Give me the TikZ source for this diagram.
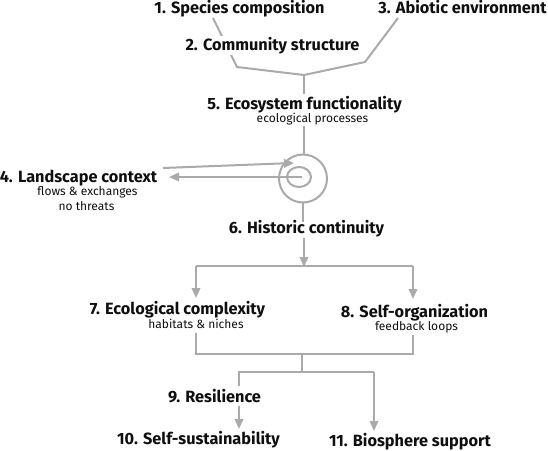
\documentclass[tikz,border=0pt]{standalone}
\usepackage{fontspec}
\setmainfont{Fira Sans}
\usetikzlibrary{arrows.meta,shapes.geometric}
\definecolor{lg}{RGB}{170,170,170}
\definecolor{tx}{RGB}{15,15,15}
\begin{document}
\begin{tikzpicture}[x=1pt,y=-1pt,
  big/.style={anchor=base,inner sep=0pt,text=tx,font=\fontsize{16.3}{19}\selectfont\bfseries},
  small/.style={anchor=base,inner sep=0pt,text=tx,font=\fontsize{12}{14}\selectfont},
  conn/.style={draw=lg,line width=2pt,line join=miter},
  arr/.style={conn,-{Triangle[length=10pt,width=8.5pt]},shorten >=-1pt}]
\useasboundingbox (0,0) rectangle (548,450);
% coordinates
\coordinate (a1) at (213,18);
\coordinate (b1) at (237,67);
\coordinate (a3) at (398,18);
\coordinate (b3) at (365,62);
\coordinate (m1) at (304,75);
\coordinate (m2) at (304,94);
\coordinate (m3) at (304,126);
\coordinate (m4) at (304,154.5);
\coordinate (inS) at (163,168);
\coordinate (inE) at (293,163);
\coordinate (outS) at (302,177);
\coordinate (outE) at (170,177);
\coordinate (m5) at (303,203);
\coordinate (m6) at (303,222);
\coordinate (m7) at (304,238);
\coordinate (m8) at (304,266);
\coordinate (bl) at (196,266);
\coordinate (br) at (413,266);
\coordinate (bl2) at (196,297);
\coordinate (br2) at (413,298);
\coordinate (c1) at (196,333);
\coordinate (c2) at (196,354);
\coordinate (c3) at (413,335);
\coordinate (c4) at (413,354);
\coordinate (c5) at (302,354);
\coordinate (c6) at (302,372);
\coordinate (d1) at (239,372);
\coordinate (d2) at (374,372);
\coordinate (d3) at (239,386);
\coordinate (d4) at (239,406);
\coordinate (d5) at (239,428);
\coordinate (d6) at (374,430);
% circle
\node[draw=lg,line width=2pt,circle,minimum size=48pt,inner sep=0pt] (ring) at (303,178.5) {};
\node[draw=lg,line width=2pt,ellipse,minimum width=24pt,minimum height=20pt,inner sep=0pt] (core) at (299,177) {};
% connectors
\draw[conn] (a1) -- (b1) -- (m1) -- (b3) -- (a3);
\draw[conn] (m1) -- (m2);
\draw[conn] (m3) -- (m4);
\draw[arr] (inS) -- (inE);
\draw[arr] (outS) -- (outE);
\draw[conn] (m5) -- (m6);
\draw[arr] (m7) -- (m8);
\draw[conn] (bl) -- (br);
\draw[arr] (bl) -- (bl2);
\draw[arr] (br) -- (br2);
\draw[conn] (c1) -- (c2) -- (c4) -- (c3);
\draw[conn] (c5) -- (c6);
\draw[conn] (d3) -- (d1) -- (d2);
\draw[arr] (d2) -- (d6);
\draw[arr] (d4) -- (d5);
% texts
\node[big] (n1) at (239.5,13) {1. Species composition};
\node[big] (n3) at (462.5,13) {3. Abiotic environment};
\node[big,fill=white,inner sep=1pt] (n2) at (272.5,50) {2. Community structure};
\node[big] (n5) at (304.5,109) {5. Ecosystem functionality};
\node[small] (n5s) at (312.5,122) {ecological processes};
\node[big] (n4) at (78.5,182) {4. Landscape context};
\node[small] (n4s) at (87.5,195.5) {flows \& exchanges};
\node[small] (n4t) at (86.5,210.5) {no threats};
\node[big] (n6) at (306.5,233.3) {6. Historic continuity};
\node[big] (n7) at (177.5,314.5) {7. Ecological complexity};
\node[small] (n7s) at (196,328.2) {habitats \& niches};
\node[big] (n8) at (414.5,317) {8. Self-organization};
\node[small] (n8s) at (416.5,330.5) {feedback loops};
\node[big] (n9) at (214.5,402.7) {9. Resilience};
\node[big] (n10) at (198.5,444.3) {10. Self-sustainability};
\node[big] (n11) at (410,446) {11. Biosphere support};
\end{tikzpicture}
\end{document}
